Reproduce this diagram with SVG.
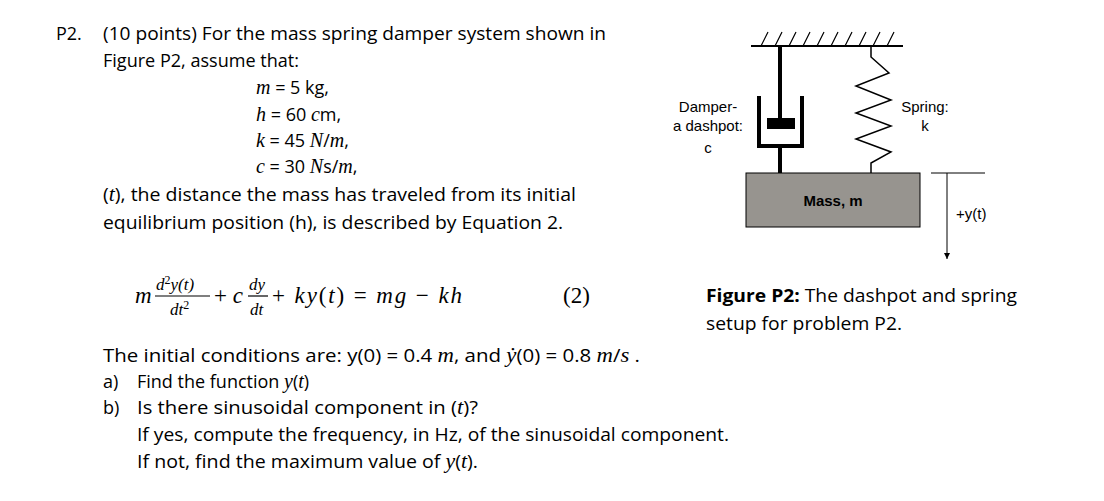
<svg xmlns="http://www.w3.org/2000/svg" width="1104" height="501" viewBox="0 0 1104 501">
<style>
.t{font-family:"Open Sans","Liberation Sans",sans-serif;font-size:18px;fill:#000}
.m{font-family:"Liberation Serif",serif;font-style:italic;font-size:20px}
.s{font-family:"Liberation Sans",Arial,sans-serif;font-size:15px;fill:#000}
.k{stroke:#000;fill:none}
.e{font-family:"Liberation Serif",serif;fill:#000;font-size:23px}
.f{font-family:"Liberation Serif",serif;fill:#000;font-size:17px;font-style:italic}
</style>
<defs><marker id="ah" markerWidth="8" markerHeight="8" refX="7" refY="4" orient="auto" markerUnits="userSpaceOnUse"><path d="M1,1 L7,4 L1,7 Z" fill="#000"/></marker></defs>
<rect width="1104" height="501" fill="#fff"/>
<g id="problem-text" class="t">
<text x="56" y="40">P2.</text>
<text x="103" y="40" textLength="503" lengthAdjust="spacingAndGlyphs">(10 points) For the mass spring damper system shown in</text>
<text x="103" y="67" textLength="196" lengthAdjust="spacingAndGlyphs">Figure P2, assume that:</text>
<text x="256" y="94"><tspan class="m">m</tspan> = 5 kg,</text>
<text x="256" y="121"><tspan class="m">h</tspan> = 60 <tspan class="m">c</tspan>m,</text>
<text x="256" y="147"><tspan class="m">k</tspan> = 45 <tspan class="m">N</tspan>/<tspan class="m">m</tspan>,</text>
<text x="256" y="173"><tspan class="m">c</tspan> = 30 <tspan class="m">N</tspan>s/<tspan class="m">m</tspan>,</text>
<text x="103" y="201" textLength="473" lengthAdjust="spacingAndGlyphs">(<tspan class="m">t</tspan>), the distance the mass has traveled from its initial</text>
<text x="103" y="229" textLength="460" lengthAdjust="spacingAndGlyphs">equilibrium position (h), is described by Equation 2.</text>
</g>
<g id="equation">
<text class="e" x="135" y="303" font-style="italic">m</text>
<text class="f" x="156" y="290">d<tspan font-size="12" font-style="normal" dy="-6">2</tspan><tspan dy="6">y(t)</tspan></text>
<line x1="155" y1="296" x2="210" y2="296" stroke="#000" stroke-width="1.2"/>
<text class="f" x="170" y="315">dt<tspan font-size="12" font-style="normal" dy="-6">2</tspan></text>
<text class="e" x="214" y="303">+ <tspan font-style="italic">c</tspan></text>
<text class="f" x="249" y="290">dy</text>
<line x1="248" y1="296" x2="268" y2="296" stroke="#000" stroke-width="1.2"/>
<text class="f" x="250" y="315">dt</text>
<text class="e" x="272" y="303" textLength="190" lengthAdjust="spacing">+ <tspan font-style="italic">ky</tspan>(<tspan font-style="italic">t</tspan>) = <tspan font-style="italic">mg</tspan> − <tspan font-style="italic">kh</tspan></text>
<text class="e" x="563" y="303">(2)</text>
</g>
<g id="questions" class="t">
<text x="103" y="362" textLength="537" lengthAdjust="spacingAndGlyphs">The initial conditions are:  y(0) = 0.4 <tspan class="m">m</tspan>, and <tspan class="m">ẏ</tspan>(0) = 0.8 <tspan class="m">m</tspan>/<tspan class="m">s</tspan> .</text>
<text x="103" y="388">a)</text>
<text x="137" y="388">Find the function <tspan class="m">y</tspan>(<tspan class="m">t</tspan>)</text>
<text x="103" y="414">b)</text>
<text x="137" y="414" textLength="341" lengthAdjust="spacingAndGlyphs">Is there sinusoidal component in (<tspan class="m">t</tspan>)?</text>
<text x="137" y="441" textLength="592" lengthAdjust="spacingAndGlyphs">If yes, compute the frequency, in Hz, of the sinusoidal component.</text>
<text x="137" y="468" textLength="341" lengthAdjust="spacingAndGlyphs">If not, find the maximum value of <tspan class="m">y</tspan>(<tspan class="m">t</tspan>).</text>
</g>
<g id="caption" class="t">
<text x="706" y="302" textLength="311" lengthAdjust="spacingAndGlyphs"><tspan font-weight="bold">Figure P2:</tspan>  The dashpot and spring</text>
<text x="706" y="330" textLength="196" lengthAdjust="spacingAndGlyphs">setup for problem P2.</text>
</g>
<g id="ground">
<line x1="751" y1="46" x2="903" y2="46" class="k" stroke-width="2"/>
<path class="k" stroke-width="1.2" d="M761,46 L768,32 M775,46 L782,32 M789,46 L796,32 M803,46 L810,32 M817,46 L824,32 M831,46 L838,32 M845,46 L852,32 M859,46 L866,32 M873,46 L880,32 M887,46 L894,32"/>
</g>
<g id="damper">
<line x1="780" y1="46" x2="780" y2="118" class="k" stroke-width="4"/>
<rect x="767" y="118" width="28" height="11" fill="#000"/>
<path d="M759,96 V146 H802 V96" class="k" stroke-width="4"/>
<line x1="780" y1="146" x2="780" y2="173" class="k" stroke-width="4"/>
<text class="s" x="708" y="112" text-anchor="middle">Damper-</text>
<text class="s" x="708" y="131" text-anchor="middle">a dashpot:</text>
<text class="s" x="708" y="153" text-anchor="middle">c</text>
</g>
<g id="spring">
<polyline class="k" stroke-width="1.5" points="871,46 871,57 889,73 856,86 891,100 856,113 891,126 856,139 891,152 871,163 871,173"/>
<text class="s" x="925" y="112" text-anchor="middle">Spring:</text>
<text class="s" x="925" y="131" text-anchor="middle">k</text>
</g>
<g id="mass">
<rect x="746" y="173" width="174" height="54" fill="#97948f" stroke="#000" stroke-width="1"/>
<text x="833" y="206" text-anchor="middle" font-family="Liberation Sans,Arial,sans-serif" font-size="15" font-weight="bold">Mass, m</text>
</g>
<g id="connectors">
<line x1="931" y1="173" x2="985" y2="173" class="k" stroke-width="1"/>
<line x1="947" y1="173" x2="947" y2="259" class="k" stroke-width="1" marker-end="url(#ah)"/>
<text class="s" x="956" y="219">+y(t)</text>
</g>
</svg>
